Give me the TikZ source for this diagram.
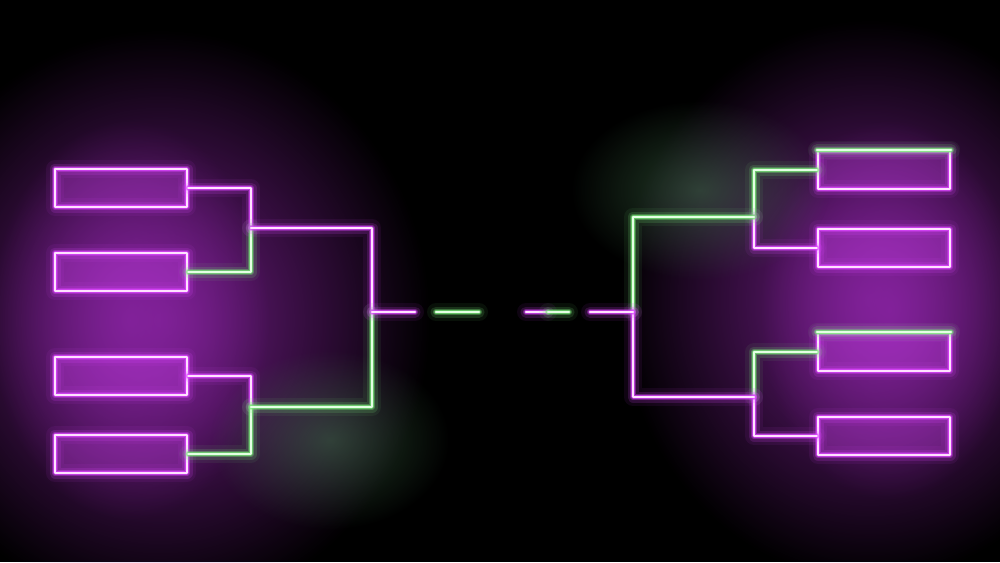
\documentclass[tikz,border=0pt]{standalone}
\usetikzlibrary{fadings}

\definecolor{neonpink}{RGB}{220,70,255}
\definecolor{corepink}{RGB}{255,225,255}
\definecolor{neongreen}{RGB}{120,230,120}
\definecolor{coregreen}{RGB}{228,255,228}
\definecolor{hazepink}{RGB}{135,35,160}
\definecolor{hazegreen}{RGB}{70,120,80}
\tikzfading[name=haze, inner color=transparent!15, outer color=transparent!100]

\begin{document}
\begin{tikzpicture}[x=1pt, y=-1pt, line cap=round, line join=round,
    pinkline/.style={draw=corepink, line width=2.2pt, preaction={draw=neonpink, line width=18pt, opacity=0.07}, preaction={draw=neonpink, line width=11pt, opacity=0.16}, preaction={draw=neonpink, line width=6pt, opacity=0.35}, preaction={draw=neonpink, line width=3.5pt, opacity=0.7}},
    greenline/.style={draw=coregreen, line width=2.2pt, preaction={draw=neongreen, line width=18pt, opacity=0.07}, preaction={draw=neongreen, line width=11pt, opacity=0.16}, preaction={draw=neongreen, line width=6pt, opacity=0.35}, preaction={draw=neongreen, line width=3.5pt, opacity=0.7}},
    boxStyle/.style={rectangle, pinkline, fill=neonpink, fill opacity=0.3, minimum width=132pt, minimum height=38pt, inner sep=0pt}]
    \fill[black] (0,0) rectangle (1000,562);
    \useasboundingbox (0,0) rectangle (1000,562);

    % haze behind the two sides
    \fill[hazepink, path fading=haze] (160,320) ellipse (270pt and 290pt);
    \fill[hazepink, path fading=haze] (130,320) ellipse (140pt and 200pt);
    \fill[hazepink, path fading=haze] (870,300) ellipse (250pt and 280pt);
    \fill[hazepink, path fading=haze] (890,310) ellipse (130pt and 190pt);
    \fill[hazegreen, path fading=haze, opacity=0.6] (330,440) ellipse (120pt and 90pt);
    \fill[hazegreen, path fading=haze, opacity=0.6] (700,190) ellipse (130pt and 90pt);

    % left boxes
    \node[boxStyle] (l_1) at (121, 188) {};
    \node[boxStyle] (l_2) at (121, 272) {};
    \node[boxStyle] (l_3) at (121, 376) {};
    \node[boxStyle] (l_4) at (121, 454) {};

    % right boxes
    \node[boxStyle] (r_1) at (884, 170) {};
    \node[boxStyle] (r_2) at (884, 248) {};
    \node[boxStyle] (r_3) at (884, 352) {};
    \node[boxStyle] (r_4) at (884, 436) {};

    % greenish top edges on the right
    \draw[greenline] (r_1.north west) -- (r_1.north east);
    \draw[greenline] (r_3.north west) -- (r_3.north east);

    \coordinate (l_m1) at (251, 228);
    \coordinate (l_m2) at (251, 407);
    \coordinate (l_c)  at (372, 312);
    \coordinate (r_m1) at (754, 217);
    \coordinate (r_m2) at (754, 397);
    \coordinate (r_c)  at (633, 312);

    \draw[pinkline]  (l_1.east) -| (l_m1);
    \draw[greenline] (l_2.east) -| (l_m1);
    \draw[pinkline]  (l_3.east) -| (l_m2);
    \draw[greenline] (l_4.east) -| (l_m2);

    \draw[pinkline]  (l_m1) -| (l_c);
    \draw[greenline] (l_m2) -| (l_c);

    \draw[greenline] (r_1.west) -| (r_m1);
    \draw[pinkline]  (r_2.west) -| (r_m1);
    \draw[greenline] (r_3.west) -| (r_m2);
    \draw[pinkline]  (r_4.west) -| (r_m2);

    \draw[greenline] (r_m1) -| (r_c);
    \draw[pinkline]  (r_m2) -| (r_c);

    % broken line in the middle
    \coordinate (d_1) at (415, 312);
    \coordinate (d_2) at (436, 312);
    \coordinate (d_3) at (479, 312);
    \coordinate (d_4) at (526, 312);
    \coordinate (d_5) at (548, 312);
    \coordinate (d_6) at (569, 312);
    \coordinate (d_7) at (590, 312);
    \draw[pinkline]  (l_c) -- (d_1);
    \draw[greenline] (d_2) -- (d_3);
    \draw[pinkline]  (d_4) -- (d_5);
    \draw[greenline] (d_5) -- (d_6);
    \draw[pinkline]  (d_7) -- (r_c);
\end{tikzpicture}
\end{document}
